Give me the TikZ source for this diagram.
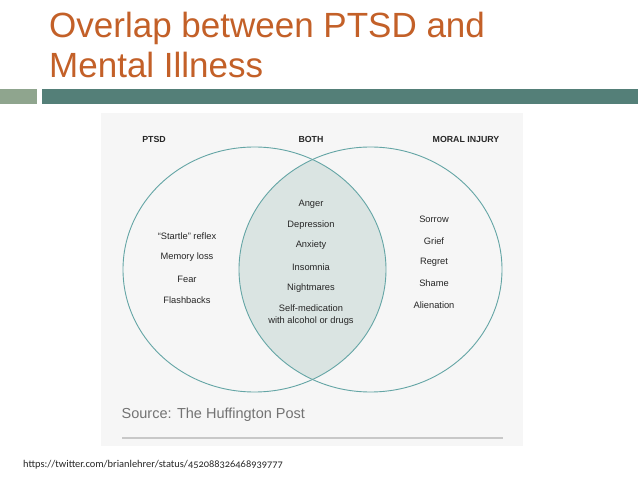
\documentclass[tikz,border=0pt]{standalone}
\usepackage{fontspec}
\setmainfont{Liberation Sans}
\newfontfamily\urlfont[Numbers=OldStyle]{Carlito}
\definecolor{titlecol}{RGB}{195,96,40}
\definecolor{barlight}{RGB}{143,165,142}
\definecolor{bardark}{RGB}{84,127,120}
\definecolor{panelcol}{RGB}{246,246,246}
\definecolor{ringcol}{RGB}{100,165,165}
\definecolor{lenscol}{RGB}{218,228,226}
\definecolor{srccol}{RGB}{115,115,115}
\definecolor{rulecol}{RGB}{200,200,200}
\tikzset{
  titletext/.style={anchor=base west, inner sep=0pt, text=titlecol, font=\fontsize{35}{40}\selectfont},
  headtext/.style={inner sep=0pt, font=\fontsize{8.8}{10}\selectfont\bfseries, text=black!85},
  itemtext/.style={inner sep=0pt, font=\fontsize{9.3}{11.5}\selectfont, text=black!85, align=center},
  ring/.style={draw=ringcol, line width=0.9pt},
}
\begin{document}
\begin{tikzpicture}[x=1pt,y=-1pt]
\useasboundingbox (0,0) rectangle (638,478);
\fill[white] (0,0) rectangle (638,478);
% title
\node[titletext] (t1) at (49,37.5) {Overlap between PTSD and};
\node[titletext] (t2) at (49,77.3) {Mental Illness};
% bars
\fill[barlight] (0,89) rectangle (37,104);
\fill[bardark] (42,89) rectangle (638,104);
% panel
\fill[panelcol] (100.5,113) rectangle (523,446);
% lens
\begin{scope}
  \clip (254.5,269.5) ellipse [x radius=131.5pt, y radius=122.5pt];
  \fill[lenscol] (370.5,269.5) ellipse [x radius=131.5pt, y radius=122.5pt];
\end{scope}
\draw[ring] (254.5,269.5) ellipse [x radius=131.5pt, y radius=122.5pt];
\draw[ring] (370.5,269.5) ellipse [x radius=131.5pt, y radius=122.5pt];
% headings
\node[headtext] (hp) at (154,139) {PTSD};
\node[headtext] (hb) at (311,139) {BOTH};
\node[headtext] (hm) at (466,139) {MORAL INJURY};
% PTSD items
\node[itemtext] (p1) at (187,236) {“Startle” reflex};
\node[itemtext] (p2) at (187,257) {Memory loss};
\node[itemtext] (p3) at (187,279) {Fear};
\node[itemtext] (p4) at (187,300) {Flashbacks};
% both items
\node[itemtext] (b1) at (311,204) {Anger};
\node[itemtext] (b2) at (311,225) {Depression};
\node[itemtext] (b3) at (311,245.5) {Anxiety};
\node[itemtext] (b4) at (311,267) {Insomnia};
\node[itemtext] (b5) at (311,288) {Nightmares};
\node[itemtext] (b6) at (311,315) {Self-medication\\with alcohol or drugs};
% moral injury items
\node[itemtext] (m1) at (434,219) {Sorrow};
\node[itemtext] (m2) at (434,241) {Grief};
\node[itemtext] (m3) at (434,262) {Regret};
\node[itemtext] (m4) at (434,283) {Shame};
\node[itemtext] (m5) at (434,305) {Alienation};
% source
\node[anchor=west, inner sep=0pt, text=srccol, font=\fontsize{14.5}{16}\selectfont] (src) at (121.5,415) {Source: The Huffington Post};
\coordinate (r1) at (122,438);
\coordinate (r2) at (503,438);
\draw[rulecol, line width=1.3pt] (r1) -- (r2);
% url
\node[anchor=west, inner sep=0pt, text=black!85, font=\fontsize{10.4}{12}\urlfont] (url) at (23,465) {https://twitter.com/brianlehrer/status/452088326468939777};
\end{tikzpicture}
\end{document}
